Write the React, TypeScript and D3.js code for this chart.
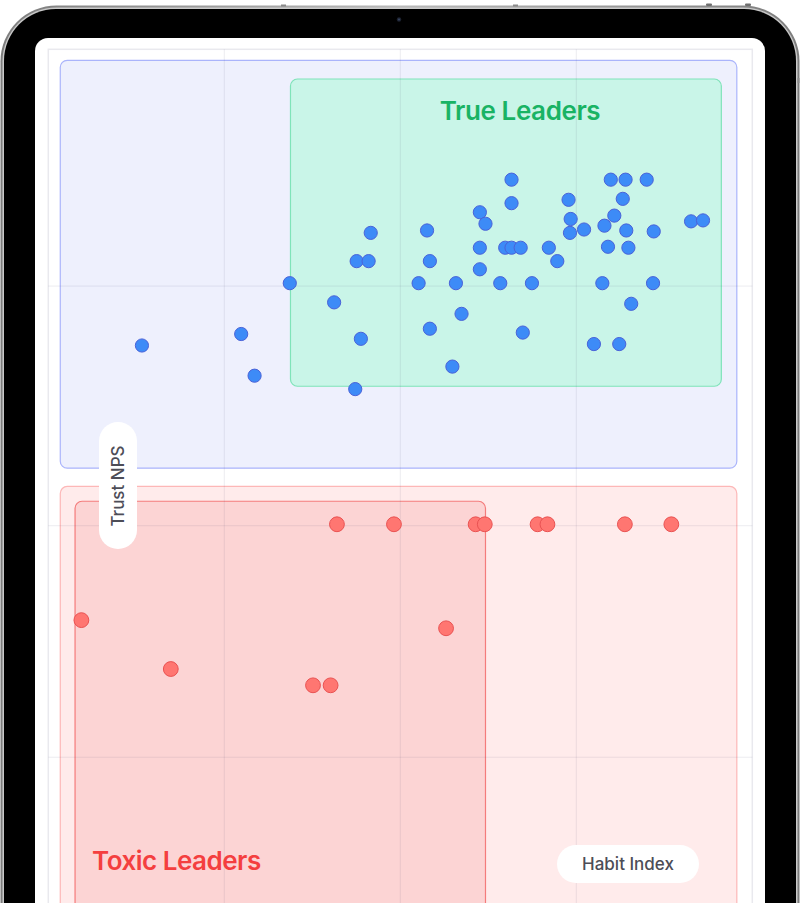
import React from 'react';
import * as d3 from 'd3';

// Habit Index (x) and Trust NPS (y) for positive-trust brands
const trustedX = [13.3, 27.4, 29.3, 34.3, 40.6, 44.4, 43.6, 43.8, 45.5, 45.8, 65.8, 65.8, 61.3, 62.1, 53.8, 54.2, 61.3, 64.9, 65.8, 67.1, 71.1, 72.3, 61.3, 52.6, 57.9, 64.2, 68.7, 58.7, 54.2, 67.4, 57.4, 73.9, 74.2, 74.1, 76.1, 79.9, 82.0, 85.0, 81.6, 80.4, 79.0, 82.1, 86.0, 79.5, 82.4, 78.7, 85.9, 82.8, 77.5, 81.1, 91.3, 93.0];
const trustedY = [37.6, 40.0, 31.3, 50.6, 46.6, 39.0, 28.5, 55.2, 55.2, 61.1, 72.2, 67.3, 65.4, 63.0, 61.6, 55.2, 58.0, 58.0, 58.0, 58.0, 58.0, 55.2, 53.5, 50.6, 50.6, 50.6, 50.6, 44.2, 41.1, 40.3, 33.2, 68.0, 64.0, 61.1, 61.8, 72.2, 72.2, 72.2, 68.2, 64.7, 62.6, 61.6, 61.4, 58.2, 58.0, 50.6, 50.6, 46.3, 37.9, 37.9, 63.5, 63.7];

// Habit Index (x) and Trust NPS (y) for low-trust brands
const toxicX = [4.7, 17.4, 37.6, 40.1, 41.0, 49.1, 60.7, 62.0, 69.5, 70.9, 81.9, 88.5, 56.5];
const toxicY = [-19.7, -29.9, -33.3, -33.3, 0.3, 0.3, 0.3, 0.3, 0.3, 0.3, 0.3, 0.3, -21.4];

// Grid tick values
const xGridTicks = [25, 50, 75];
const yGridTicks = [50, 0, -48.3];

// Zones in data units
const zoneNames = ['trust', 'trueLeaders', 'distrust', 'toxicLeaders'];
const zoneX0 = [1.7, 34.4, 1.7, 3.8];
const zoneX1 = [97.8, 95.6, 97.8, 62.1];
const zoneY0 = [12.0, 29.1, -100, -100];
const zoneY1 = [97.1, 93.2, 8.2, 5.1];

const axisTitles = ['Habit Index', 'Trust NPS'];
const zoneLabels = ['True Leaders', 'Toxic Leaders'];

const zoneStyle: Record<string, { fill: string; stroke: string }> = {
  trust: { fill: '#eef0fd', stroke: '#aab4fb' },
  trueLeaders: { fill: '#c9f5e8', stroke: '#7fe3b9' },
  distrust: { fill: '#ffebeb', stroke: '#fdb7b7' },
  toxicLeaders: { fill: '#fcd4d4', stroke: '#f47c7c' },
};

const FONT = 'Inter, "Noto Sans", sans-serif';

export default function App() {
  const W = 800;
  const H = 903;
  const x = d3.scaleLinear().domain([0, 100]).range([48.3, 752.3]);
  const y = d3.scaleLinear().domain([-100, 99.4]).range([1005, 49.3]);

  const trusted = trustedX.map((v, i) => ({ x: v, y: trustedY[i] })).sort((a, b) => a.x - b.x);
  const toxic = toxicX.map((v, i) => ({ x: v, y: toxicY[i] })).sort((a, b) => a.x - b.x);

  const screen = { x: 35, y: 38, w: 730, h: 1000, r: 13 };
  const plotLeft = x(0);
  const plotRight = x(100);
  const plotTop = y(99.4);

  return (
    <svg
      width={W}
      height={H}
      viewBox={`0 0 ${W} ${H}`}
      style={{ position: 'absolute', left: 0, top: 0, display: 'block', background: '#ffffff' }}
    >
      <defs>
        <linearGradient id="edge" x1="0" y1="0" x2="1" y2="0">
          <stop offset="0" stopColor="#7d7d7d" />
          <stop offset="0.5" stopColor="#b9b9b9" />
          <stop offset="1" stopColor="#7d7d7d" />
        </linearGradient>
        <clipPath id="screenClip">
          <rect x={screen.x} y={screen.y} width={screen.w} height={screen.h} rx={screen.r} />
        </clipPath>
      </defs>

      {/* device body */}
      <rect x={0.5} y={5.5} width={799} height={1200} rx={56} fill="url(#edge)" />
      <rect x={2.5} y={7.5} width={795} height={1200} rx={54} fill="#c9c9c9" />
      <rect x={4} y={9} width={792} height={1200} rx={52} fill="#000000" />
      {/* buttons */}
      <rect x={281} y={4.5} width={5} height={2} fill="#8a8a8a" />
      <rect x={513} y={4.5} width={5} height={2} fill="#8a8a8a" />
      <rect x={706} y={3.5} width={6} height={2.5} rx={1} fill="#6f6f6f" />
      <rect x={745} y={3.5} width={6} height={2.5} rx={1} fill="#6f6f6f" />
      <rect x={797.5} y={78} width={2} height={5} fill="#8a8a8a" />
      {/* camera */}
      <circle cx={399} cy={19.5} r={2.2} fill="#1c2230" />
      <circle cx={399} cy={19.5} r={0.9} fill="#3a4a66" />

      {/* screen */}
      <rect x={screen.x} y={screen.y} width={screen.w} height={screen.h} rx={screen.r} fill="#ffffff" />

      <g clipPath="url(#screenClip)">
        {/* plot frame */}
        <rect
          x={plotLeft}
          y={plotTop}
          width={plotRight - plotLeft}
          height={1000}
          fill="#ffffff"
          stroke="#e9e9ee"
          strokeWidth={1.5}
        />

        {/* zones */}
        {zoneNames.map((name, i) => {
          const x0 = x(zoneX0[i]);
          const x1 = x(zoneX1[i]);
          const y0 = y(zoneY1[i]);
          const y1 = y(zoneY0[i]);
          return (
            <rect
              key={name}
              x={x0}
              y={y0}
              width={x1 - x0}
              height={y1 - y0}
              rx={7}
              fill={zoneStyle[name].fill}
              stroke={zoneStyle[name].stroke}
              strokeWidth={1.2}
            />
          );
        })}

        {/* grid */}
        {xGridTicks.map((t) => (
          <line
            key={'gx' + t}
            x1={x(t)}
            x2={x(t)}
            y1={plotTop}
            y2={1000}
            stroke="rgba(70,70,110,0.1)"
            strokeWidth={1}
          />
        ))}
        {yGridTicks.map((t) => (
          <line
            key={'gy' + t}
            x1={plotLeft}
            x2={plotRight}
            y1={y(t)}
            y2={y(t)}
            stroke="rgba(70,70,110,0.1)"
            strokeWidth={1}
          />
        ))}

        {/* zone labels */}
        <text
          x={520}
          y={120}
          textAnchor="middle"
          fontFamily={FONT}
          fontSize={26}
          fontWeight={600}
          letterSpacing={-0.4}
          fill="#19b364"
        >
          {zoneLabels[0]}
        </text>
        <text
          x={92}
          y={870}
          fontFamily={FONT}
          fontSize={26}
          fontWeight={600}
          letterSpacing={-0.5}
          fill="#f43f3f"
        >
          {zoneLabels[1]}
        </text>

        {/* points */}
        {trusted.map((p, i) => (
          <circle
            key={'t' + i}
            cx={x(p.x)}
            cy={y(p.y)}
            r={6.6}
            fill="#3d8bf7"
            stroke="#4a62d8"
            strokeWidth={1}
          />
        ))}
        {toxic.map((p, i) => (
          <circle
            key={'x' + i}
            cx={x(p.x)}
            cy={y(p.y)}
            r={7.4}
            fill="#ff7671"
            stroke="#e95252"
            strokeWidth={1}
          />
        ))}

        {/* axis title pills */}
        <rect x={99} y={422} width={38} height={127} rx={19} fill="#ffffff" />
        <text
          transform="translate(118,486) rotate(-90)"
          textAnchor="middle"
          dominantBaseline="central"
          fontFamily={FONT}
          fontSize={17}
          fontWeight={500}
          fill="#4d4d57"
        >
          {axisTitles[1]}
        </text>
        <rect x={557} y={845} width={142} height={38} rx={19} fill="#ffffff" />
        <text
          x={628}
          y={864}
          textAnchor="middle"
          dominantBaseline="central"
          fontFamily={FONT}
          fontSize={17}
          fontWeight={500}
          fill="#4d4d57"
        >
          {axisTitles[0]}
        </text>
      </g>
    </svg>
  );
}
